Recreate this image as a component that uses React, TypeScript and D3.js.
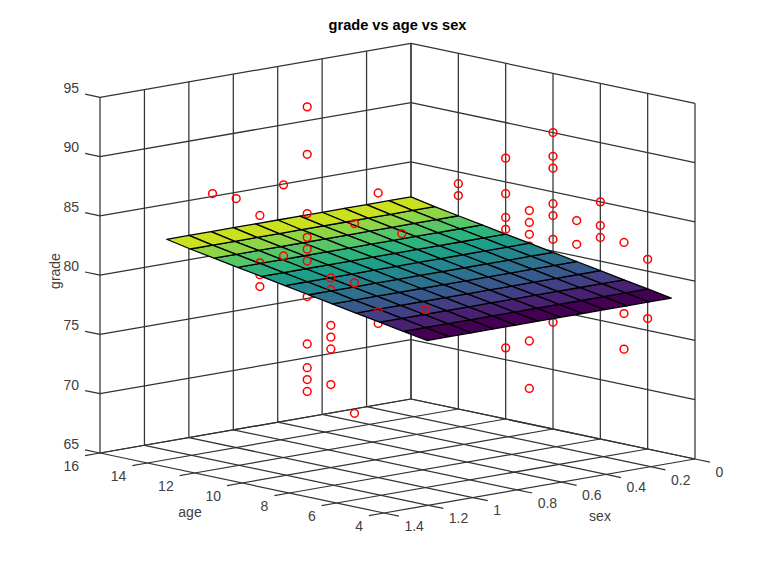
import * as d3 from 'd3';

const width = 768;
const height = 575;

const sexTicks = [0, 0.2, 0.4, 0.6, 0.8, 1, 1.2, 1.4];
const ageTicks = [4, 6, 8, 10, 12, 14, 16];
const gradeTicks = [65, 70, 75, 80, 85, 90, 95];

// fitted surface
const surfaceSex = [0, 0.1, 0.2, 0.3, 0.4, 0.5, 0.6, 0.7, 0.8, 0.9, 1, 1.1];
const surfaceAge = [5, 6, 7, 8, 9, 10, 11, 12, 13, 14, 15, 16];
const surfaceGrade = [78.15, 78.5, 78.85, 79.2, 79.55, 79.9, 80.25, 80.6, 80.95, 81.3, 81.65, 82.05];

// samples, grouped by sex then age: [age, grades]
const sex1Samples: [number, number[]][] = [
  [15, [86]],
  [14, [86]],
  [13, [85, 81, 80, 79]],
  [12, [88, 82]],
  [11, [95, 91, 86, 84, 83, 82, 79, 75, 73, 72, 71]],
  [10, [81, 80, 77, 76, 75, 72]],
  [9, [86, 81, 70]],
  [8, [89, 79, 78]],
  [7, [86]],
  [6, [80]],
];
const sex0Samples: [number, number[]][] = [
  [14, [84, 83]],
  [12, [87, 84, 82, 81, 71]],
  [11, [83, 82, 81, 80, 72, 68]],
  [10, [90, 88, 87, 84, 83, 81, 74]],
  [9, [83, 81]],
  [8, [85, 83, 82]],
  [7, [82, 76, 73]],
  [6, [81, 76]],
];

// orthographic view: each data axis moves the pixel by a fixed vector
const origin = { x: 411, y: 399 };
const sexX = d3.scaleLinear().domain([0, 1.4]).range([0, -311]);
const sexY = d3.scaleLinear().domain([0, 1.4]).range([0, 54]);
const ageX = d3.scaleLinear().domain([16, 4]).range([0, 284]);
const ageY = d3.scaleLinear().domain([16, 4]).range([0, 60]);
const gradeY = d3.scaleLinear().domain([65, 95]).range([0, -355.7]);

const project = (sex: number, age: number, grade: number): [number, number] => [
  origin.x + sexX(sex) + ageX(age),
  origin.y + sexY(sex) + ageY(age) + gradeY(grade),
];

const line = d3.line();
const colour = d3.scaleSequential(d3.interpolateViridis).domain([78.15, 81.95]);
const halfCircle = d3.arc()({
  innerRadius: 3.9,
  outerRadius: 3.9,
  startAngle: -Math.PI / 2,
  endAngle: Math.PI / 2,
}) as string;

const gridColour = '#333333';
const textColour = '#404040';
const fontFamily = '"Liberation Sans", Arial, sans-serif';
const ageMin = 4;
const ageMax = 16;
const sexMax = 1.4;
const gradeMin = 65;
const gradeMax = 95;

const samples = [
  ...sex1Samples.flatMap(([age, gs]) => gs.map((grade) => ({ sex: 1, age, grade }))),
  ...sex0Samples.flatMap(([age, gs]) => gs.map((grade) => ({ sex: 0, age, grade }))),
];
// how far a sample sits above the surface decides how it is occluded
const offset = (s: { age: number; grade: number }) =>
  s.grade - surfaceGrade[surfaceAge.indexOf(s.age)];
const behind = samples.filter((s) => offset(s) < -0.22);
const cut = samples.filter((s) => Math.abs(offset(s)) <= 0.22);
const front = samples.filter((s) => offset(s) > 0.22);

function Marker({ sex, age, grade }: { sex: number; age: number; grade: number }) {
  const [x, y] = project(sex, age, grade);
  return <circle cx={x} cy={y} r={3.9} fill="none" stroke="#ff0000" strokeWidth={1.5} />;
}

export default function App() {
  const gridLines: [number, number][][] = [
    // back walls, verticals
    ...sexTicks.map((s) => [project(s, ageMax, gradeMin), project(s, ageMax, gradeMax)]),
    ...ageTicks.map((a) => [project(0, a, gradeMin), project(0, a, gradeMax)]),
    // back walls, horizontals
    ...gradeTicks.map((g) => [project(sexMax, ageMax, g), project(0, ageMax, g)]),
    ...gradeTicks.map((g) => [project(0, ageMax, g), project(0, ageMin, g)]),
    // floor
    ...sexTicks.map((s) => [project(s, ageMin, gradeMin), project(s, ageMax, gradeMin)]),
    ...ageTicks.map((a) => [project(0, a, gradeMin), project(sexMax, a, gradeMin)]),
  ];

  const tickLines: [number, number][][] = [
    ...gradeTicks.map((g) => [project(sexMax, ageMax, g), project(sexMax, ageMax + 0.63, g)]),
    ...ageTicks.map((a) => [project(sexMax, a, gradeMin), project(sexMax + 0.0675, a, gradeMin)]),
    ...sexTicks.map((s) => [project(s, ageMin, gradeMin), project(s, ageMin - 0.63, gradeMin)]),
  ];

  const cells = surfaceAge.slice(0, -1).flatMap((age, i) =>
    surfaceSex.slice(0, -1).map((sex, j) => ({
      key: `${i}-${j}`,
      fill: colour(surfaceGrade[i]),
      d: line([
        project(sex, age, surfaceGrade[i]),
        project(surfaceSex[j + 1], age, surfaceGrade[i]),
        project(surfaceSex[j + 1], surfaceAge[i + 1], surfaceGrade[i + 1]),
        project(sex, surfaceAge[i + 1], surfaceGrade[i + 1]),
      ]) + 'Z',
    }))
  );

  return (
    <svg
      width={width}
      height={height}
      style={{ position: 'absolute', left: 0, top: 0, background: '#fff' }}
      fontFamily={fontFamily}
    >
      <g stroke={gridColour} strokeWidth={1.25} fill="none">
        {gridLines.map((l, i) => <path key={i} d={line(l) as string} />)}
        {tickLines.map((l, i) => <path key={i} d={line(l) as string} />)}
      </g>

      {behind.map((s, i) => <Marker key={i} {...s} />)}

      <g stroke="#000" strokeWidth={1.3} strokeLinejoin="round">
        {cells.map((c) => <path key={c.key} d={c.d} fill={c.fill} />)}
      </g>

      {front.map((s, i) => <Marker key={i} {...s} />)}
      {cut.map((s, i) => {
        const [x, y] = project(s.sex, s.age, s.grade);
        return (
          <path
            key={i}
            d={halfCircle}
            transform={`translate(${x},${y})`}
            fill="none"
            stroke="#ff0000"
            strokeWidth={1.5}
          />
        );
      })}

      <g fontSize={14} fill={textColour}>
        {gradeTicks.map((g) => {
          const [x, y] = project(sexMax, ageMax + 0.63, g);
          return <text key={g} x={x - 6} y={y - 6} dy="0.36em" textAnchor="end">{g}</text>;
        })}
        {ageTicks.map((a) => {
          const [x, y] = project(sexMax + 0.0675, a, gradeMin);
          return <text key={a} x={x - 6} y={y + 10} dy="0.36em" textAnchor="end">{a}</text>;
        })}
        {sexTicks.map((s) => {
          const [x, y] = project(s, ageMin - 0.63, gradeMin);
          return <text key={s} x={x + 5.5} y={y + 9.7} dy="0.36em">{s}</text>;
        })}
        <text x={190} y={513} dy="0.3em" textAnchor="middle">age</text>
        <text x={600} y={517} dy="0.3em" textAnchor="middle">sex</text>
        <text transform="translate(56,271) rotate(-90)" dy="0.3em" textAnchor="middle">grade</text>
      </g>
      <text x={397.5} y={26} dy="0.3em" textAnchor="middle" fontSize={14.6} fontWeight="bold" fill="#000">
        grade vs age vs sex
      </text>
    </svg>
  );
}
